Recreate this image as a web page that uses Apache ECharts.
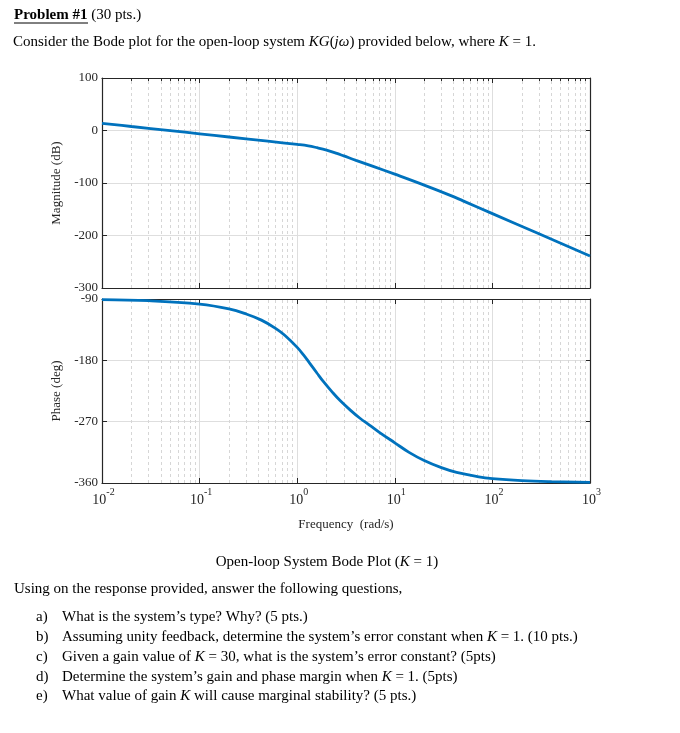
<!DOCTYPE html>
<html><head><meta charset="utf-8">
<script src="https://cdn.jsdelivr.net/npm/echarts@6/dist/echarts.min.js"></script>
<style>html,body{margin:0;padding:0;background:#fff}#c{width:680px;height:733px}</style>
</head><body><div id="c"></div>
<script>
// ---- data ----
const magFreq = [0.01, 0.02, 0.05, 0.1, 0.2, 0.5, 1, 1.3, 1.6, 2, 2.5, 3, 4, 6, 10, 20, 37, 50, 100, 300, 1000];
const magDb   = [13.7, 7.6, -0.3, -6.3, -12.4, -20.4, -26.5, -29.2, -32.8, -37.3, -43, -48.3, -56.8, -68.3, -83.2, -104, -123.5, -134, -158.3, -196.8, -239];
const phaseFreq = [0.01, 0.03, 0.1, 0.2, 0.3, 0.43, 0.6, 0.75, 1, 1.16, 1.34, 1.6, 1.85, 2.3, 2.75, 3.5, 4.4, 5.5, 7, 10, 14, 20, 30, 43, 70, 100, 200, 400, 1000];
const phaseDeg  = [-91, -92.5, -97.5, -104.5, -112, -121, -133, -143.5, -161, -172, -184, -199, -211, -227, -239, -253, -265, -275, -286, -301, -315, -327, -337.5, -344.5, -350.5, -353.5, -356.5, -358, -359];
const decadeTicks = [0.01, 0.1, 1, 10, 100, 1000];
const decadeExponents = ['-2', '-1', '0', '1', '2', '3'];
const minorMultipliers = [2, 3, 4, 5, 6, 7, 8, 9];
const magTicks = [100, 0, -100, -200, -300];
const phaseTicks = [-90, -180, -270, -360];

const minorTicks = [];
decadeTicks.slice(0, -1).forEach(d => minorMultipliers.forEach(m => minorTicks.push(+(d * m).toPrecision(3))));

const DARK = '#262626';
const SERIF = 'Liberation Serif';
const GRID_MAJOR = '#dedede';
const GRID_MINOR = '#d6d6d6';

function xAxisDef(grid, pos, ticks, len, showLine, extra) {
  return Object.assign({
    type: 'log', logBase: 10, min: 0.01, max: 1000, gridIndex: grid, position: pos,
    axisLine: { show: showLine, onZero: false, lineStyle: { color: DARK, width: 1.2 } },
    axisTick: { show: true, inside: true, length: len, customValues: ticks, lineStyle: { color: DARK, width: 1 } },
    axisLabel: { show: false },
    splitLine: { show: false }
  }, extra || {});
}
function yAxisDef(grid, pos, min, max, interval, labels) {
  return {
    type: 'value', gridIndex: grid, position: pos, min: min, max: max, interval: interval,
    axisLine: { show: true, onZero: false, lineStyle: { color: DARK, width: 1.2 } },
    axisTick: { show: true, inside: true, length: 5, lineStyle: { color: DARK } },
    axisLabel: labels ? { show: true, fontFamily: SERIF, fontSize: 13, color: DARK, margin: 4 } : { show: false },
    splitLine: labels ? { show: true, lineStyle: { color: GRID_MAJOR, width: 1 } } : { show: false }
  };
}
const minorLines = {
  silent: true, symbol: ['none', 'none'], label: { show: false }, z: 1, animation: false,
  lineStyle: { type: [3, 3], color: GRID_MINOR, width: 1 },
  emphasis: { disabled: true },
  data: minorTicks.map(v => ({ xAxis: v }))
};

const xLabel = {
  show: true, margin: 4, showMinLabel: true, showMaxLabel: true, customValues: decadeTicks,
  padding: [0, 0, 0, 3],
  formatter: v => '{b|10}{s|' + decadeExponents[decadeTicks.findIndex(d => Math.abs(d - v) / d < 1e-6)] + '}',
  rich: {
    b: { fontFamily: SERIF, fontSize: 14, color: DARK, lineHeight: 20, verticalAlign: 'bottom' },
    s: { fontFamily: SERIF, fontSize: 10, color: DARK, lineHeight: 10, verticalAlign: 'top' }
  }
};

const txt = { fontFamily: SERIF, fontSize: 15, fill: '#000' };
const rich = { i: { fontStyle: 'italic', fontFamily: SERIF, fontSize: 15 }, b: { fontWeight: 'bold', fontFamily: SERIF, fontSize: 15 } };
function T(x, y, text, align) {
  return { type: 'text', x: x, y: y, silent: true,
    style: Object.assign({}, txt, { text: text, align: align || 'left', verticalAlign: 'middle', rich: rich }) };
}

const option = {
  animation: false,
  grid: [
    { left: 102, top: 78, width: 488, height: 210 },
    { left: 102, top: 299, width: 488, height: 184 }
  ],
  xAxis: [
    xAxisDef(0, 'bottom', decadeTicks, 5, true, { splitLine: { show: true, lineStyle: { color: GRID_MAJOR, width: 1 } } }),
    xAxisDef(0, 'top', decadeTicks, 5, true),
    xAxisDef(1, 'bottom', decadeTicks, 5, true, {
      splitLine: { show: true, lineStyle: { color: GRID_MAJOR, width: 1 } },
      axisLabel: xLabel,
      name: 'Frequency  (rad/s)', nameLocation: 'middle', nameGap: 35,
      nameTextStyle: { fontFamily: SERIF, fontSize: 13, color: DARK }
    }),
    xAxisDef(1, 'top', decadeTicks, 5, true),
    xAxisDef(0, 'bottom', minorTicks, 3, false),
    xAxisDef(0, 'top', minorTicks, 3, false),
    xAxisDef(1, 'bottom', minorTicks, 3, false),
    xAxisDef(1, 'top', minorTicks, 3, false)
  ],
  yAxis: [
    Object.assign(yAxisDef(0, 'left', -300, 100, 100, true), {
      name: 'Magnitude (dB)', nameLocation: 'middle', nameGap: 31, nameRotate: 90,
      nameTextStyle: { fontFamily: SERIF, fontSize: 13, color: DARK }
    }),
    yAxisDef(0, 'right', -300, 100, 100, false),
    Object.assign(yAxisDef(1, 'left', -360, -90, 90, true), {
      name: 'Phase (deg)', nameLocation: 'middle', nameGap: 31, nameRotate: 90,
      nameTextStyle: { fontFamily: SERIF, fontSize: 13, color: DARK }
    }),
    yAxisDef(1, 'right', -360, -90, 90, false)
  ],
  series: [
    { type: 'line', name: 'Magnitude', xAxisIndex: 0, yAxisIndex: 0, smooth: 0.4, symbol: 'none',
      lineStyle: { color: '#0072BD', width: 2.8 }, data: magFreq.map((f, i) => [f, magDb[i]]),
      markLine: minorLines, z: 3 },
    { type: 'line', name: 'Phase', xAxisIndex: 2, yAxisIndex: 2, smooth: 0.4, symbol: 'none',
      lineStyle: { color: '#0072BD', width: 2.8 }, data: phaseFreq.map((f, i) => [f, phaseDeg[i]]),
      markLine: minorLines, z: 3 }
  ],
  graphic: [
    T(14, 15, '{b|Problem #1} (30 pts.)'),
    { type: 'line', silent: true, shape: { x1: 14, y1: 23, x2: 88, y2: 23 }, style: { stroke: '#000', lineWidth: 1 } },
    T(13, 42, 'Consider the Bode plot for the open-loop system {i|KG}({i|jω}) provided below, where {i|K} = 1.'),
    T(327, 562, 'Open-loop System Bode Plot ({i|K} = 1)', 'center'),
    T(14, 589, 'Using on the response provided, answer the following questions,'),
    T(36, 617, 'a)'), T(62, 617, 'What is the system’s type? Why? (5 pts.)'),
    T(36, 637, 'b)'), T(62, 637, 'Assuming unity feedback, determine the system’s error constant when {i|K} = 1. (10 pts.)'),
    T(36, 657, 'c)'), T(62, 657, 'Given a gain value of {i|K} = 30, what is the system’s error constant? (5pts)'),
    T(36, 677, 'd)'), T(62, 677, 'Determine the system’s gain and phase margin when {i|K} = 1. (5pts)'),
    T(36, 696, 'e)'), T(62, 696, 'What value of gain {i|K} will cause marginal stability? (5 pts.)')
  ]
};
const chart = echarts.init(document.getElementById('c'), null, { renderer: 'canvas', width: 680, height: 733 });
chart.setOption(option);
</script>
</body></html>
